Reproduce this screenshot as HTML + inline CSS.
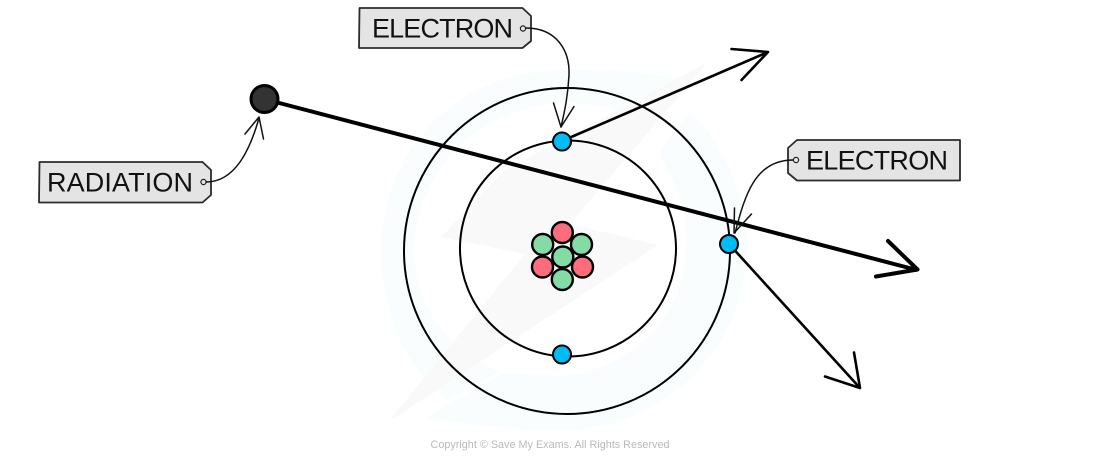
<!DOCTYPE html>
<html>
<head>
<meta charset="utf-8">
<style>
html,body{margin:0;padding:0;background:#fff;width:1100px;height:456px;overflow:hidden}
svg{display:block}
text{font-family:"Liberation Sans",sans-serif}
</style>
</head>
<body>
<svg width="1100" height="456" viewBox="0 0 1100 456" xmlns="http://www.w3.org/2000/svg">
<!-- watermark -->
<g>
<path d="M567 70 C 455 70 383 150 381 250 C 381 320 410 370 447 400 L 500 372 C 450 350 415 310 414 250 C 416 170 480 105 567 103 C 590 103 610 108 625 113 L 680 78 C 645 72 600 68 567 70 Z" fill="#fafdfe"/>
<path d="M660 150 L 665 165 C 680 190 688 220 686 250 C 684 320 625 372 560 376 L 505 372 L 425 418 C 470 425 530 432 570 430 C 670 425 745 345 747 250 C 747 190 720 140 690 112 Z" fill="#fafdfe"/>
<path d="M708 62 L 505 170 L 441 237 L 525 254 L 388 422 L 658 245 L 570 224 Z" fill="#f9f9f9"/>
</g>
<!-- orbits -->
<circle cx="567" cy="251" r="163" fill="none" stroke="#000" stroke-width="2"/>
<circle cx="568" cy="248.5" r="108" fill="none" stroke="#000" stroke-width="2"/>
<!-- nucleus -->
<g stroke="#000" stroke-width="2.4">
<circle cx="542.7" cy="244.5" r="10.5" fill="#85dba6"/>
<circle cx="581.5" cy="244.5" r="10.5" fill="#85dba6"/>
<circle cx="562.3" cy="232.5" r="10.5" fill="#ff6d7d"/>
<circle cx="542.5" cy="267" r="10.5" fill="#ff6d7d"/>
<circle cx="582.5" cy="267" r="10.5" fill="#ff6d7d"/>
<circle cx="562.3" cy="279.5" r="10.5" fill="#85dba6"/>
<circle cx="562.8" cy="257" r="10.5" fill="#85dba6"/>
</g>
<!-- main radiation path -->
<line x1="264" y1="99" x2="917" y2="270" stroke="#000" stroke-width="4"/>
<path d="M888 241 L917.5 269.5 L876 276.5" fill="none" stroke="#000" stroke-width="4" stroke-linecap="round" stroke-linejoin="round"/>
<!-- ejected electrons -->
<line x1="562" y1="141" x2="768" y2="52" stroke="#000" stroke-width="2.6"/>
<path d="M731.5 49 L768 52 L741.5 80" fill="none" stroke="#000" stroke-width="2.6" stroke-linecap="round" stroke-linejoin="round"/>
<line x1="729" y1="244" x2="860" y2="388" stroke="#000" stroke-width="2.6"/>
<path d="M825 376.500 L860 388 L854 352.500" fill="none" stroke="#000" stroke-width="2.6" stroke-linecap="round" stroke-linejoin="round"/>
<!-- electrons and particle -->
<g stroke="#000" stroke-width="2" fill="#00bcf5">
<circle cx="562" cy="141.500" r="9"/>
<circle cx="562" cy="354.500" r="9"/>
<circle cx="729" cy="244" r="9"/>
</g>
<circle cx="264.500" cy="99" r="13.500" fill="#333" stroke="#000" stroke-width="3"/>
<!-- labels -->
<g fill="#e4e4e4" stroke="#2b2b2b" stroke-width="1.800" stroke-linejoin="round">
<path d="M359.500 8 H522.500 L531 16 V41 L522.500 48 H359 Z"/>
<path d="M39.500 162 H202.500 L211 170 V195 L202.500 202.500 H39 Z"/>
<path d="M797 140 H960 V180.500 H797 L788 173 V148 Z"/>
</g>
<g fill="#111" font-size="27">
<text x="372" y="37.500" textLength="141" lengthAdjust="spacing">ELECTRON</text>
<text x="47" y="191.500" textLength="146" lengthAdjust="spacing">RADIATION</text>
<text x="806" y="169.500" textLength="142" lengthAdjust="spacing">ELECTRON</text>
</g>
<g fill="#e4e4e4" stroke="#222" stroke-width="1.200">
<circle cx="523" cy="28.500" r="2.600"/>
<circle cx="203.500" cy="182" r="2.600"/>
<circle cx="796" cy="160" r="2.600"/>
</g>
<!-- pointers -->
<g fill="none" stroke="#111" stroke-width="1.500" stroke-linecap="round" stroke-linejoin="round">
<path d="M526 28 C 556 28 570 50 569 75 C 568 95 565 110 561 127"/>
<path d="M553.500 103 L561 127 L574 106.500"/>
<path d="M206 182 C 235 182 250 150 259 118"/>
<path d="M245 134 L259 117 L263.500 139"/>
<path d="M793 160 C 755 160 745 195 735 233"/>
<path d="M734.500 208 L734 233 L751.500 214"/>
</g>
<text x="550" y="448" text-anchor="middle" font-size="11" fill="#b9b9b9" textLength="239" lengthAdjust="spacingAndGlyphs">Copyright © Save My Exams. All Rights Reserved</text>
</svg>
</body>
</html>
